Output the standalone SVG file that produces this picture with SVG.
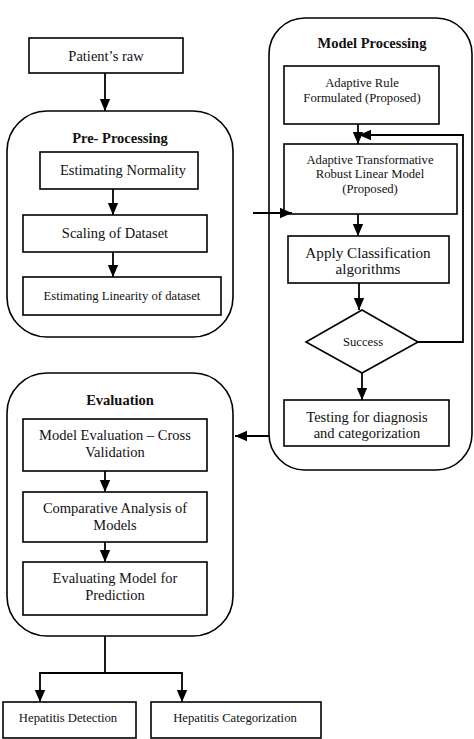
<svg xmlns="http://www.w3.org/2000/svg" width="474" height="739" viewBox="0 0 474 739">
<defs>
<style>
.box{fill:#fff;stroke:#000;stroke-width:1.6}
.grp{fill:#fff;stroke:#000;stroke-width:1.6}
text{font-family:"Liberation Serif","Times New Roman",Times,serif}
.t{font-size:14.5px;fill:#111;text-anchor:middle}
.s{font-size:12.7px}
.m{font-size:15.2px}
.b{font-weight:bold;font-size:14.5px}
.c{fill:none;stroke:#000;stroke-width:1.8}
</style>
<marker id="ah" markerWidth="12" markerHeight="12" refX="12" refY="6" orient="auto" markerUnits="userSpaceOnUse"><path d="M0,0.8 L12,6 L0,11.2 z" fill="#000"/></marker>
</defs>
<rect width="474" height="739" fill="#fff"/>

<g id="preprocessing">
<rect class="grp" x="7" y="111" width="226" height="226" rx="40" ry="40"/>
<text class="t b" x="120" y="143">Pre- Processing</text>
</g>
<g id="modelprocessing">
<rect class="grp" x="269" y="18" width="203" height="452" rx="36" ry="36"/>
<text class="t b" x="372" y="48">Model Processing</text>
</g>
<g id="evaluation">
<rect class="grp" x="7" y="373" width="226" height="263" rx="40" ry="40"/>
<text class="t b" x="120" y="405">Evaluation</text>
</g>

<g id="patient">
<rect class="box" x="29" y="38" width="154" height="35"/>
<text class="t" x="106" y="61">Patient’s raw</text>
</g>
<g id="normality">
<rect class="box" x="40" y="152" width="158" height="37"/>
<text class="t" x="123" y="175">Estimating Normality</text>
</g>
<g id="scaling">
<rect class="box" x="23" y="215" width="184" height="37"/>
<text class="t" x="115" y="238">Scaling of Dataset</text>
</g>
<g id="linearity">
<rect class="box" x="23" y="277" width="198" height="38"/>
<text class="t s" x="122" y="300">Estimating Linearity of dataset</text>
</g>

<g id="adaptiverule">
<rect class="box" x="284" y="66" width="155" height="58"/>
<text class="t s" x="362" y="87">Adaptive Rule</text>
<text class="t s" x="362" y="102">Formulated (Proposed)</text>
</g>
<g id="atrlm">
<rect class="box" x="284" y="144" width="173" height="70"/>
<text class="t s" x="370" y="164">Adaptive Transformative</text>
<text class="t s" x="370" y="178">Robust Linear Model</text>
<text class="t s" x="370" y="193">(Proposed)</text>
</g>
<g id="classification">
<rect class="box" x="288" y="236" width="161" height="47"/>
<text class="t m" x="368" y="258">Apply Classification</text>
<text class="t m" x="368" y="274">algorithms</text>
</g>
<g id="success">
<polygon class="box" points="362,310 418,342 362,373 306,342"/>
<text class="t s" x="363" y="346">Success</text>
</g>
<g id="testing">
<rect class="box" x="284" y="400" width="165" height="46"/>
<text class="t" x="367" y="422">Testing for diagnosis</text>
<text class="t" x="367" y="438">and categorization</text>
</g>

<g id="modeleval">
<rect class="box" x="23" y="419" width="184" height="52"/>
<text class="t" x="115" y="440">Model Evaluation – Cross</text>
<text class="t" x="115" y="457">Validation</text>
</g>
<g id="comparative">
<rect class="box" x="23" y="492" width="184" height="50"/>
<text class="t" x="115" y="513">Comparative Analysis of</text>
<text class="t" x="115" y="530">Models</text>
</g>
<g id="evalmodel">
<rect class="box" x="23" y="562" width="184" height="53"/>
<text class="t" x="115" y="583">Evaluating Model for</text>
<text class="t" x="115" y="600">Prediction</text>
</g>

<g id="detection">
<rect class="box" x="3" y="702" width="133" height="36"/>
<text class="t s" x="68" y="722">Hepatitis Detection</text>
</g>
<g id="categorization">
<rect class="box" x="151" y="702" width="170" height="36"/>
<text class="t s" x="235" y="722">Hepatitis Categorization</text>
</g>

<g id="connectors">
<line class="c" x1="105" y1="73" x2="105" y2="111" marker-end="url(#ah)"/>
<line class="c" x1="113" y1="189" x2="113" y2="215" marker-end="url(#ah)"/>
<line class="c" x1="113" y1="252" x2="113" y2="277" marker-end="url(#ah)"/>
<line class="c" x1="253" y1="213" x2="292" y2="213" marker-end="url(#ah)"/>
<line class="c" x1="358" y1="124" x2="358" y2="144" marker-end="url(#ah)"/>
<polyline class="c" points="418,342 463,342 463,135 359,135" marker-end="url(#ah)"/>
<line class="c" x1="358" y1="214" x2="358" y2="236" marker-end="url(#ah)"/>
<line class="c" x1="359" y1="283" x2="359" y2="310" marker-end="url(#ah)"/>
<line class="c" x1="362" y1="373" x2="362" y2="400" marker-end="url(#ah)"/>
<line class="c" x1="269" y1="436" x2="235" y2="436" marker-end="url(#ah)"/>
<line class="c" x1="105" y1="471" x2="105" y2="492" marker-end="url(#ah)"/>
<line class="c" x1="105" y1="542" x2="105" y2="562" marker-end="url(#ah)"/>
<polyline class="c" points="105,636 105,673"/>
<polyline class="c" points="105,673 40,673 40,702" marker-end="url(#ah)"/>
<polyline class="c" points="105,673 182,673 182,702" marker-end="url(#ah)"/>
</g>
</svg>
